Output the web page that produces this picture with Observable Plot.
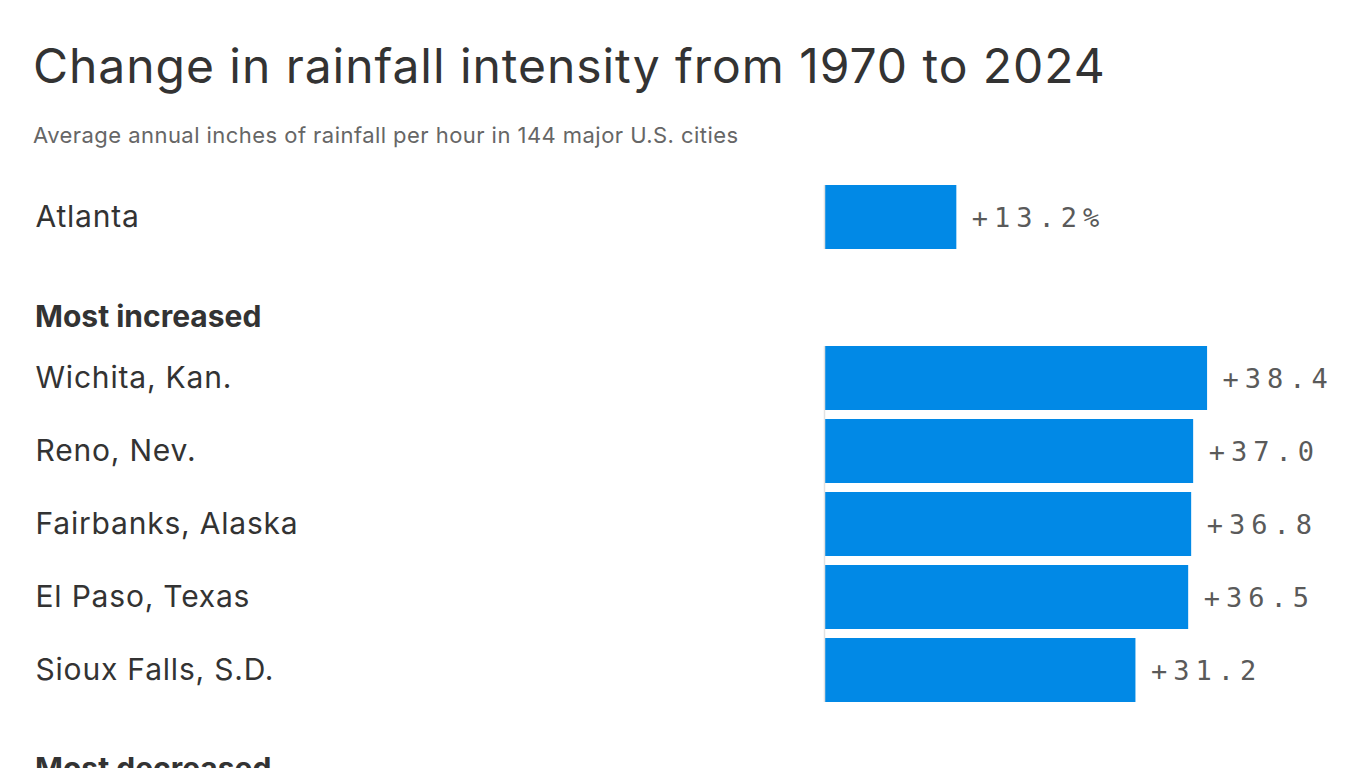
<!DOCTYPE html>
<html>
<head>
<meta charset="utf-8">
<script src="https://cdn.jsdelivr.net/npm/d3@7"></script>
<script src="https://cdn.jsdelivr.net/npm/@observablehq/plot@0.6"></script>
<style>
  html, body { margin: 0; padding: 0; background: #fff; overflow: hidden; }
  body { width: 1366px; height: 768px; position: relative; font-family: Inter, "Noto Sans", sans-serif; color: #333; }
  .abs { position: absolute; left: 0; white-space: nowrap; }
  #title { left: 33px; top: 42px; font-size: 48px; line-height: 48px; font-weight: 400; color: #333; letter-spacing: 0.95px; }
  #subtitle { left: 33px; top: 124px; font-size: 22px; line-height: 22px; color: #666; letter-spacing: 0.45px; }
  .head { left: 35px; font-size: 30px; line-height: 30px; font-weight: 700; color: #333; }
  svg { display: block; }
</style>
</head>
<body>
<div id="title" class="abs">Change in rainfall intensity from 1970 to 2024</div>
<div id="subtitle" class="abs">Average annual inches of rainfall per hour in 144 major U.S. cities</div>
<div id="plot1" class="abs" style="top:185px"></div>
<div class="abs head" style="top:301px">Most increased</div>
<div id="plot2" class="abs" style="top:346px"></div>
<div class="abs head" style="top:753px">Most decreased</div>
<script>
// Data
const featuredCities = ["Atlanta"];
const featuredValues = [13.2];
const increasedCities = ["Wichita, Kan.", "Reno, Nev.", "Fairbanks, Alaska", "El Paso, Texas", "Sioux Falls, S.D."];
const increasedValues = [38.4, 37.0, 36.8, 36.5, 31.2];

const barColor = "#0189e6";

function makeChart(cities, values, withPercent) {
  const rows = cities.map((c, i) => ({city: c, value: values[i], first: i === 0}));
  const n = rows.length;
  const step = 73, band = 64;
  const height = n * step - (step - band);
  const svg = Plot.plot({
    width: 1366,
    height,
    marginTop: 0, marginBottom: 0, marginLeft: 0, marginRight: 0,
    style: {fontFamily: "Inter, 'Noto Sans', sans-serif", background: "transparent", overflow: "visible"},
    x: {domain: [0, 40], range: [825, 1223], axis: null},
    y: {domain: cities, paddingInner: n > 1 ? (step - band) / step : 0, paddingOuter: 0, axis: null},
    marks: [
      Plot.barX(rows, {x: "value", y: "city", fill: barColor}),
      Plot.ruleX([0], {stroke: "#e2e2e2", strokeWidth: 1.5, dx: -1}),
      Plot.text(rows, {y: "city", text: "city", frameAnchor: "left", dx: 35, textAnchor: "start",
        fontSize: 30, fill: "#333"}),
      Plot.text(rows, {x: "value", y: "city",
        text: d => "+" + d.value.toFixed(1) + (withPercent && d.first ? "%" : ""),
        dx: 15, dy: 1, textAnchor: "start", fontSize: 27, fill: "#5a5a5a",
        fontFamily: "'DejaVu Sans Mono', 'Liberation Mono', monospace"})
    ]
  });
  d3.select(svg).selectAll("text").each(function() {
    const t = d3.select(this);
    if (t.text().startsWith("+")) t.style("letter-spacing", "6px");
    else t.style("letter-spacing", "0.8px");
  });
  return svg;
}

document.getElementById("plot1").appendChild(makeChart(featuredCities, featuredValues, true));
document.getElementById("plot2").appendChild(makeChart(increasedCities, increasedValues, false));
</script>
</body>
</html>
